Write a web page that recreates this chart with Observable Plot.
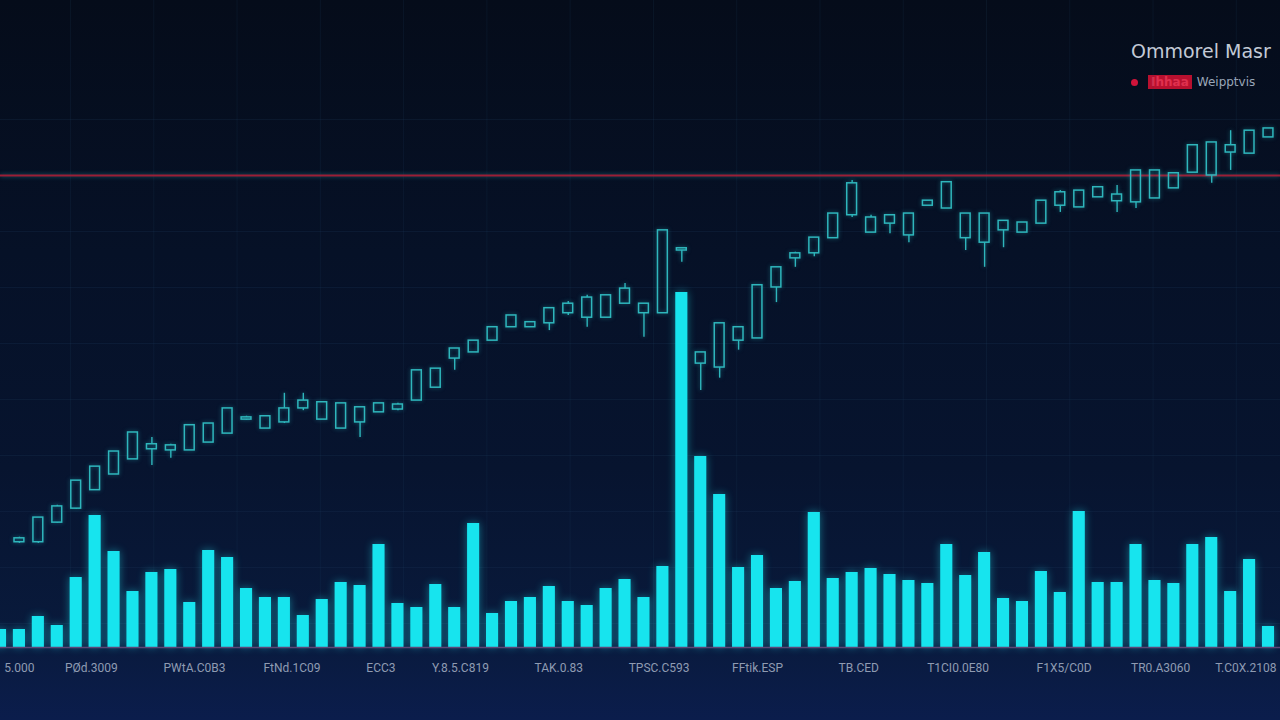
<!DOCTYPE html>
<html>
<head>
<meta charset="utf-8">
<script src="https://cdn.jsdelivr.net/npm/d3@7"></script>
<script src="https://cdn.jsdelivr.net/npm/@observablehq/plot@0.6"></script>
<style>
  html, body { margin: 0; padding: 0; background: #050d1b; }
  #chart {
    position: relative; width: 1280px; height: 720px; overflow: hidden;
    background: linear-gradient(180deg, #050c1a 0%, #061127 35%, #07142f 65%, #091a3c 88%, #0b1d4c 100%);
  }
  #chart svg { position: absolute; left: 0; top: 0; }
  .legend { position: absolute; left: 1131px; top: 40px; white-space: nowrap; font-family: "DejaVu Sans", sans-serif; }
  .legend .title { font-size: 19px; color: #c3cad6; letter-spacing: 0; }
  .legend .row { margin-top: 13px; font-size: 12px; color: #9aa6b8; display: flex; align-items: center; }
  .legend .dot { width: 7px; height: 7px; border-radius: 50%; background: #d0143a; margin-right: 10px; }
  .legend .tag { background: #b8102f; color: #e0304e; padding: 0 3px; margin-right: 5px; font-weight: bold; }
</style>
</head>
<body>
<div id="chart">
  <div class="legend">
    <div class="title">Ommorel Masr</div>
    <div class="row"><span class="dot"></span><span class="tag">Ihhaa</span><span>Weipptvis</span></div>
  </div>
</div>
<script>
// ---- data ----
const candleIndex = d3.range(1, 68);
const opens  = [34.5,34.5,38.0,40.5,43.8,46.6,49.3,51.1,51.8,50.9,52.3,53.9,56.8,54.8,55.9,58.4,56.4,54.8,55.9,57.7,58.2,59.8,62.1,67.3,68.4,70.5,72.9,73.8,73.6,75.4,74.6,74.6,77.1,77.1,75.4,86.6,66.4,65.7,70.5,70.9,80.0,85.2,86.1,88.8,92.9,89.8,92.9,89.3,94.6,94.1,88.8,88.0,91.9,89.8,91.4,94.6,94.3,96.1,95.4,95.2,95.9,97.7,100.5,100.0,104.1,103.9,106.8];
const closes = [35.2,38.9,40.9,45.5,48.0,50.7,54.1,52.0,50.9,55.4,55.7,58.4,56.4,57.0,58.4,59.8,59.5,59.3,58.6,59.3,59.1,65.2,65.5,69.1,70.5,72.9,75.0,72.9,76.3,77.1,78.2,78.6,79.8,75.4,90.2,87.0,68.4,73.6,72.9,80.4,83.6,86.1,88.9,93.2,98.6,92.5,91.4,93.2,95.5,98.8,93.2,93.2,90.2,91.6,95.5,97.0,97.3,97.9,96.6,100.9,100.9,100.4,105.4,105.9,105.4,108.0,108.4];
const highs  = [35.4,38.9,41.1,45.5,48.0,50.7,54.1,53.2,52.0,55.4,55.7,58.4,57.0,57.0,61.1,61.1,59.5,59.3,58.6,59.3,59.3,65.2,65.5,69.1,70.5,72.9,75.0,73.8,76.3,77.5,78.6,78.6,80.7,77.1,90.2,87.0,68.4,73.6,72.9,80.4,83.6,86.3,88.9,93.2,99.1,92.9,92.9,93.2,95.5,98.8,93.2,93.2,91.9,91.6,95.5,97.3,97.3,97.9,98.2,100.9,100.9,100.4,105.4,105.9,108.0,108.0,108.4];
const lows   = [34.3,34.3,37.9,40.4,43.8,46.6,49.3,48.2,49.5,50.9,52.3,53.9,56.3,54.8,55.7,58.0,56.4,54.8,53.2,57.7,58.0,59.8,62.1,65.2,68.4,70.5,72.9,72.9,72.3,75.0,72.9,74.6,77.1,71.1,75.4,84.5,61.6,63.8,68.8,70.9,77.3,83.6,85.5,88.8,92.5,89.8,89.6,88.0,94.6,94.1,86.6,83.6,87.1,89.8,91.4,93.4,94.3,96.1,93.4,94.1,95.9,97.7,100.5,98.6,100.9,103.9,106.8];
const volumes = [4.5,4.5,7.75,5.5,17.5,33,24,14,18.75,19.5,11.25,24.25,22.5,14.75,12.5,12.5,8,12,16.25,15.5,25.75,11,10,15.75,10,31,8.5,11.5,12.5,15.25,11.5,10.5,14.75,17,12.5,20.25,88.75,47.75,38.25,20,23,14.75,16.5,33.75,17.25,18.75,19.75,18.25,16.75,16,25.75,18,23.75,12.25,11.5,19,13.75,34,16.25,16.25,25.75,16.75,16,25.75,27.5,14,22,5.25];
const resistance = [100];
const tickPositions = [1.0, 4.8, 10.25, 15.4, 20.1, 24.3, 29.5, 34.8, 40, 45.35, 50.6, 56.2, 61.3, 65.8];
const tickLabels = ["5.000","PØd.3009","PWtA.C0B3","FtNd.1C09","ECC3","Y.8.5.C819","TAK.0.83","TPSC.C593","FFtik.ESP","TB.CED","T1CI0.0E80","F1X5/C0D","TR0.A3060","T.C0X.2108"];

// ---- build tables ----
const candles = candleIndex.map((i, k) => ({i, open: opens[k], close: closes[k], high: highs[k], low: lows[k]}));
const vols = volumes.map((v, i) => ({i, v}));

const W = 1280, H = 720;
const xDomain = [0, 67 * 1280 / 1268];
const candleColor = "#2fb6bc";
const chart = document.getElementById("chart");

// Layer 1: grid, resistance line, candlesticks
const priceChart = Plot.plot({
  width: W, height: H,
  marginLeft: 0, marginRight: 0, marginTop: 0, marginBottom: 73,
  style: {background: "transparent", overflow: "visible"},
  x: {type: "linear", domain: xDomain, axis: null},
  y: {domain: [15.7, 131.25], axis: null},
  marks: [
    Plot.gridY(d3.range(20, 111, 10), {stroke: "#27486a", strokeOpacity: 0.2}),
    Plot.gridX(d3.range(3.7, 67, 4.4), {stroke: "#27486a", strokeOpacity: 0.16}),
    Plot.ruleY(resistance, {stroke: "#9c1e36", strokeWidth: 2.2}),
    Plot.ruleX(candles, {x: "i", y1: "low", y2: d => Math.min(d.open, d.close), stroke: candleColor, strokeWidth: 1.4}),
    Plot.ruleX(candles, {x: "i", y1: d => Math.max(d.open, d.close), y2: "high", stroke: candleColor, strokeWidth: 1.4}),
    Plot.rect(candles, {x1: d => d.i - 0.26, x2: d => d.i + 0.26, y1: "open", y2: "close", fill: "none", stroke: candleColor, strokeWidth: 1.5})
  ]
});
chart.appendChild(priceChart);

// Layer 2: volume bars and the x axis
const volChart = Plot.plot({
  width: W, height: H,
  marginLeft: 0, marginRight: 0, marginTop: 247, marginBottom: 73,
  style: {background: "transparent", overflow: "visible", fontFamily: "Roboto, sans-serif", fontSize: "12px", color: "#8f9bb2"},
  x: {type: "linear", domain: xDomain, ticks: tickPositions, tickFormat: (d, k) => tickLabels[k], tickSize: 0, tickPadding: 16, label: null},
  y: {domain: [0, 100], axis: null},
  marks: [
    Plot.rectY(vols, {x1: d => d.i - 0.32, x2: d => d.i + 0.32, y1: 0, y2: "v", fill: "#17e4ee"}),
    Plot.ruleY([0], {stroke: "#5e4676", strokeWidth: 1.5})
  ]
});
chart.appendChild(volChart);

// soft glow on marks
const barGroup = volChart.querySelector('g[aria-label="rect"]');
if (barGroup) barGroup.style.filter = "drop-shadow(0 0 4px rgba(30,225,240,0.45))";
priceChart.querySelectorAll('g[aria-label="rect"], g[aria-label="rule"]').forEach(g => {
  g.style.filter = "drop-shadow(0 0 2px rgba(40,190,200,0.5))";
});
</script>
</body>
</html>
